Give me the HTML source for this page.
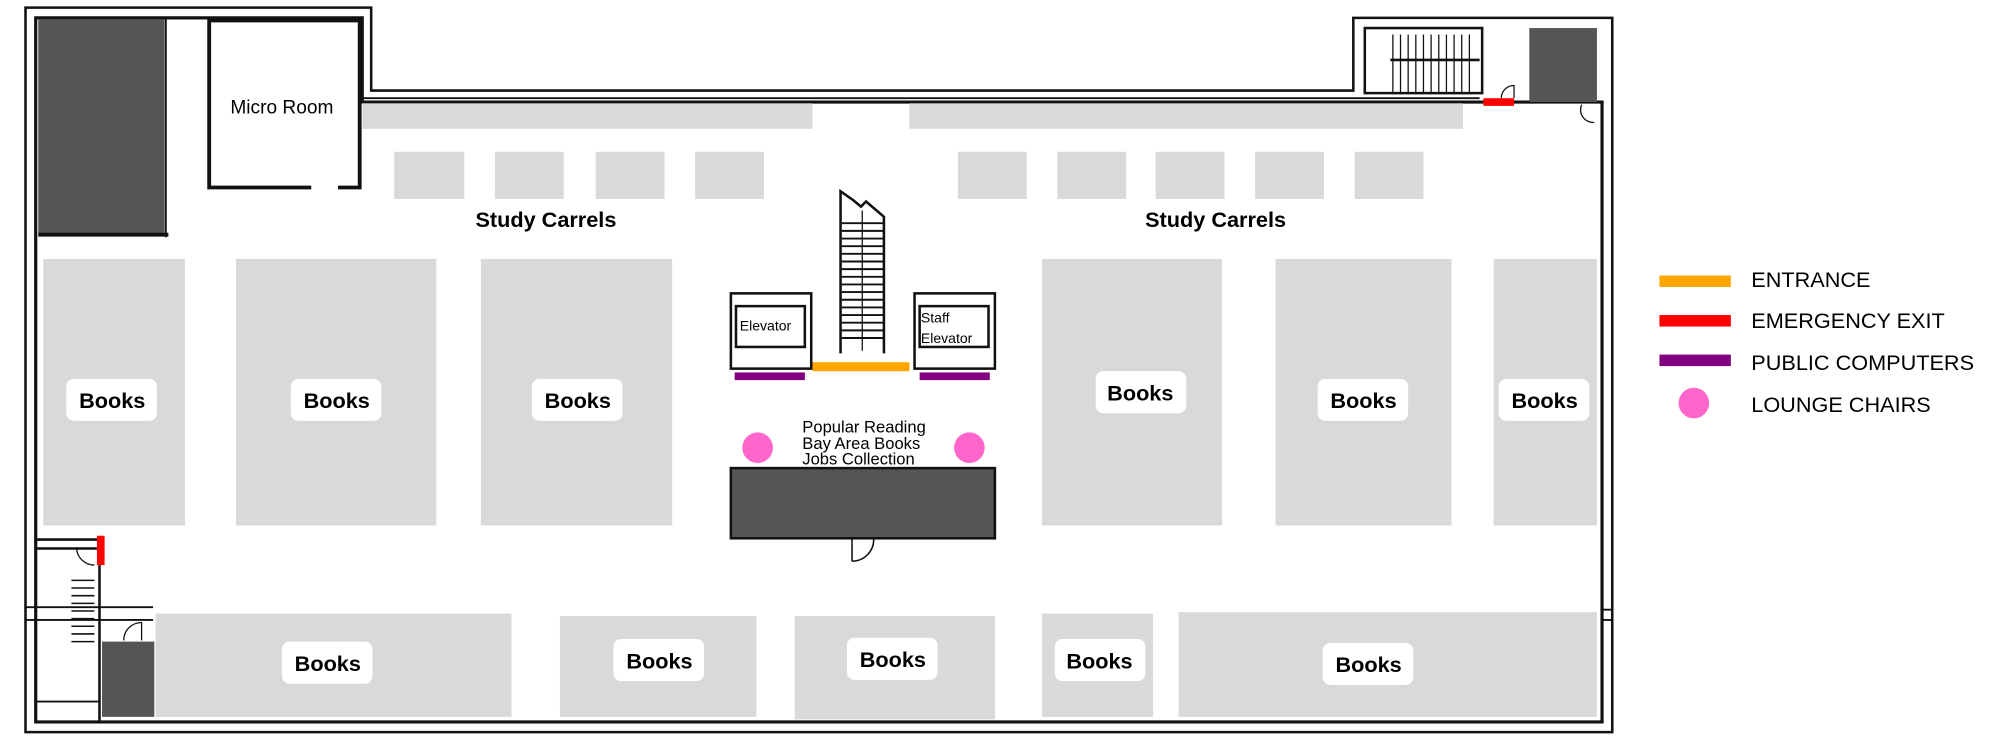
<!DOCTYPE html>
<html><head><meta charset="utf-8"><style>
html,body{margin:0;padding:0;background:#fff;}
svg{display:block;}
text{font-family:"Liberation Sans",sans-serif;}
.b{font-weight:bold;font-size:17px;text-anchor:middle;}
</style></head><body>
<svg width="2000" height="743" viewBox="0 0 1568 582.5" preserveAspectRatio="none" xmlns="http://www.w3.org/2000/svg">
<rect width="1568" height="582.5" fill="#fff"/>
<!-- outer walls -->
<path d="M20,6 L291,6 L291,71 L1061,71 L1061,14 L1264,14 L1264,574 L20,574 Z" fill="none" stroke="#111" stroke-width="2"/>
<path d="M28,14 L284,14 L284,80 L1256,80 L1256,566 L28,566 Z" fill="none" stroke="#111" stroke-width="2.5"/>
<line x1="284" y1="77" x2="1160" y2="77" stroke="#111" stroke-width="1.5"/>
<!-- top-left dark room -->
<rect x="30" y="15" width="99" height="168" fill="#555"/>
<line x1="30" y1="184" x2="132" y2="184" stroke="#111" stroke-width="3"/>
<line x1="130" y1="15" x2="130" y2="186" stroke="#111" stroke-width="1.5"/>
<!-- micro room -->
<path d="M244,147 L164,147 L164,16 L282,16 L282,147 L265,147" fill="none" stroke="#111" stroke-width="3"/>
<text x="221" y="89" font-size="15" text-anchor="middle">Micro Room</text>
<!-- carrels -->
<g fill="#d9d9d9">
<rect x="284" y="81" width="353" height="20"/>
<rect x="713" y="81" width="434" height="20"/>
<rect x="309" y="119" width="55" height="37"/><rect x="388" y="119" width="54" height="37"/>
<rect x="467" y="119" width="54" height="37"/><rect x="545" y="119" width="54" height="37"/>
<rect x="751" y="119" width="54" height="37"/><rect x="829" y="119" width="54" height="37"/>
<rect x="906" y="119" width="54" height="37"/><rect x="984" y="119" width="54" height="37"/>
<rect x="1062" y="119" width="54" height="37"/>
<!-- book rows -->
<rect x="34" y="203" width="111" height="209"/><rect x="185" y="203" width="157" height="209"/>
<rect x="377" y="203" width="150" height="209"/><rect x="817" y="203" width="141" height="209"/>
<rect x="1000" y="203" width="138" height="209"/><rect x="1171" y="203" width="81" height="209"/>
<rect x="122" y="481" width="279" height="81"/><rect x="439" y="483" width="154" height="79"/>
<rect x="623" y="483" width="157" height="81"/><rect x="817" y="481" width="87" height="81"/>
<rect x="924" y="480" width="328" height="82"/>
</g>
<text class="b" x="428" y="178">Study Carrels</text>
<text class="b" x="953" y="178">Study Carrels</text>
<!-- book labels -->
<g fill="#fff">
<rect x="52" y="297" width="71" height="33" rx="6"/><rect x="228" y="297" width="71" height="33" rx="6"/>
<rect x="417" y="297" width="71" height="33" rx="6"/><rect x="859" y="291" width="71" height="33" rx="6"/>
<rect x="1033" y="297" width="71" height="33" rx="6"/><rect x="1175" y="297" width="71" height="33" rx="6"/>
<rect x="221" y="503" width="71" height="33" rx="6"/><rect x="481" y="501" width="71" height="33" rx="6"/>
<rect x="664" y="500" width="71" height="33" rx="6"/><rect x="827" y="501" width="71" height="33" rx="6"/>
<rect x="1037" y="504" width="71" height="33" rx="6"/>
</g>
<g class="b">
<text class="b" x="88" y="320">Books</text><text class="b" x="264" y="320">Books</text>
<text class="b" x="453" y="320">Books</text><text class="b" x="894" y="314">Books</text>
<text class="b" x="1069" y="320">Books</text><text class="b" x="1211" y="320">Books</text>
<text class="b" x="257" y="526">Books</text><text class="b" x="517" y="524">Books</text>
<text class="b" x="700" y="523">Books</text><text class="b" x="862" y="524">Books</text>
<text class="b" x="1073" y="527">Books</text>
</g>
<!-- central stairs -->
<g stroke="#111" fill="none">
<path d="M659,277 L659,150 L669,157 L675,162 L679,158 L693,170 L693,277" stroke-width="2"/>
<line x1="676" y1="165" x2="676" y2="275" stroke-width="1"/>
<path d="M660,175 h33 M660,181 h33 M660,187 h33 M660,193 h33 M660,199 h33 M660,205 h33 M660,211 h33 M660,217 h33 M660,223 h33 M660,229 h33 M660,235 h33 M660,241 h33 M660,247 h33 M660,253 h33 M660,259 h33 M660,265 h33" stroke-width="1.5"/>
<!-- elevators -->
<rect x="573" y="230" width="63" height="59" stroke-width="2"/>
<rect x="577" y="240" width="54" height="32" stroke-width="2"/>
<rect x="717" y="230" width="63" height="59" stroke-width="2"/>
<rect x="721" y="240" width="54" height="32" stroke-width="2"/>
<!-- desk -->
<rect x="573" y="367" width="207" height="55" fill="#555" stroke-width="2"/>
<path d="M668,422 L668,440 M668,440 A17,17 0 0 0 685,423" stroke-width="1.2"/>
<!-- top-right stair -->
<rect x="1070" y="22" width="92" height="51" stroke-width="2"/>
<path d="M1092,27 v47 M1098,27 v47 M1104,27 v47 M1110,27 v47 M1116,27 v47 M1122,27 v47 M1128,27 v47 M1134,27 v47 M1140,27 v47 M1146,27 v47 M1152,27 v47" stroke-width="1"/>
<line x1="1090" y1="47" x2="1160" y2="47" stroke-width="2"/>
<path d="M1187,77 L1187,67 A10,10 0 0 0 1177,77" stroke-width="1"/>
<path d="M1250,96 A10,10 0 0 1 1240,82" stroke-width="1"/>
<!-- bottom-left stair -->
<path d="M20,476 H120 M20,486 H120" stroke-width="1.5"/>
<path d="M28,423 H78 V566 M28,430 H76" stroke-width="2"/>
<path d="M56,455 h18 M56,461 h18 M56,467 h18 M56,473 h18 M56,479 h18 M56,485 h18 M56,491 h18 M56,497 h18 M56,503 h18" stroke-width="1.2"/>
<path d="M74,443 A14,14 0 0 1 60,429" stroke-width="1"/>
<path d="M97,502 A14,14 0 0 1 111,488 V502" stroke-width="1"/>
<path d="M28,550 H78" stroke-width="1.5"/>
<path d="M1256,478 H1264 M1256,486 H1264" stroke-width="1.5"/>
</g>
<rect x="1199" y="22" width="53" height="58" fill="#555"/>
<rect x="80" y="503" width="41" height="59" fill="#555"/>
<text x="580" y="259" font-size="11">Elevator</text>
<text x="722" y="253" font-size="11">Staff</text>
<text x="722" y="269" font-size="11">Elevator</text>
<rect x="637" y="284" width="76" height="7" fill="#ffa500"/>
<rect x="576" y="292" width="55" height="6" fill="#800080"/>
<rect x="721" y="292" width="55" height="6" fill="#800080"/>
<rect x="1163" y="77" width="24" height="6" fill="#f00"/>
<rect x="76" y="420" width="6" height="23" fill="#f00"/>
<circle cx="594" cy="351" r="12" fill="#ff66cc"/>
<circle cx="760" cy="351" r="12" fill="#ff66cc"/>
<text x="629" y="339" font-size="13">Popular Reading</text>
<text x="629" y="352" font-size="13">Bay Area Books</text>
<text x="629" y="364" font-size="13">Jobs Collection</text>
<!-- legend -->
<rect x="1301" y="216" width="56" height="9" fill="#ffa500"/>
<rect x="1301" y="247" width="56" height="9" fill="#f00"/>
<rect x="1301" y="278" width="56" height="9" fill="#800080"/>
<circle cx="1328" cy="316" r="12" fill="#ff66cc"/>
<text x="1373" y="225" font-size="17">ENTRANCE</text>
<text x="1373" y="257" font-size="17">EMERGENCY EXIT</text>
<text x="1373" y="290" font-size="17">PUBLIC COMPUTERS</text>
<text x="1373" y="323" font-size="17">LOUNGE CHAIRS</text>
</svg>
</body></html>
